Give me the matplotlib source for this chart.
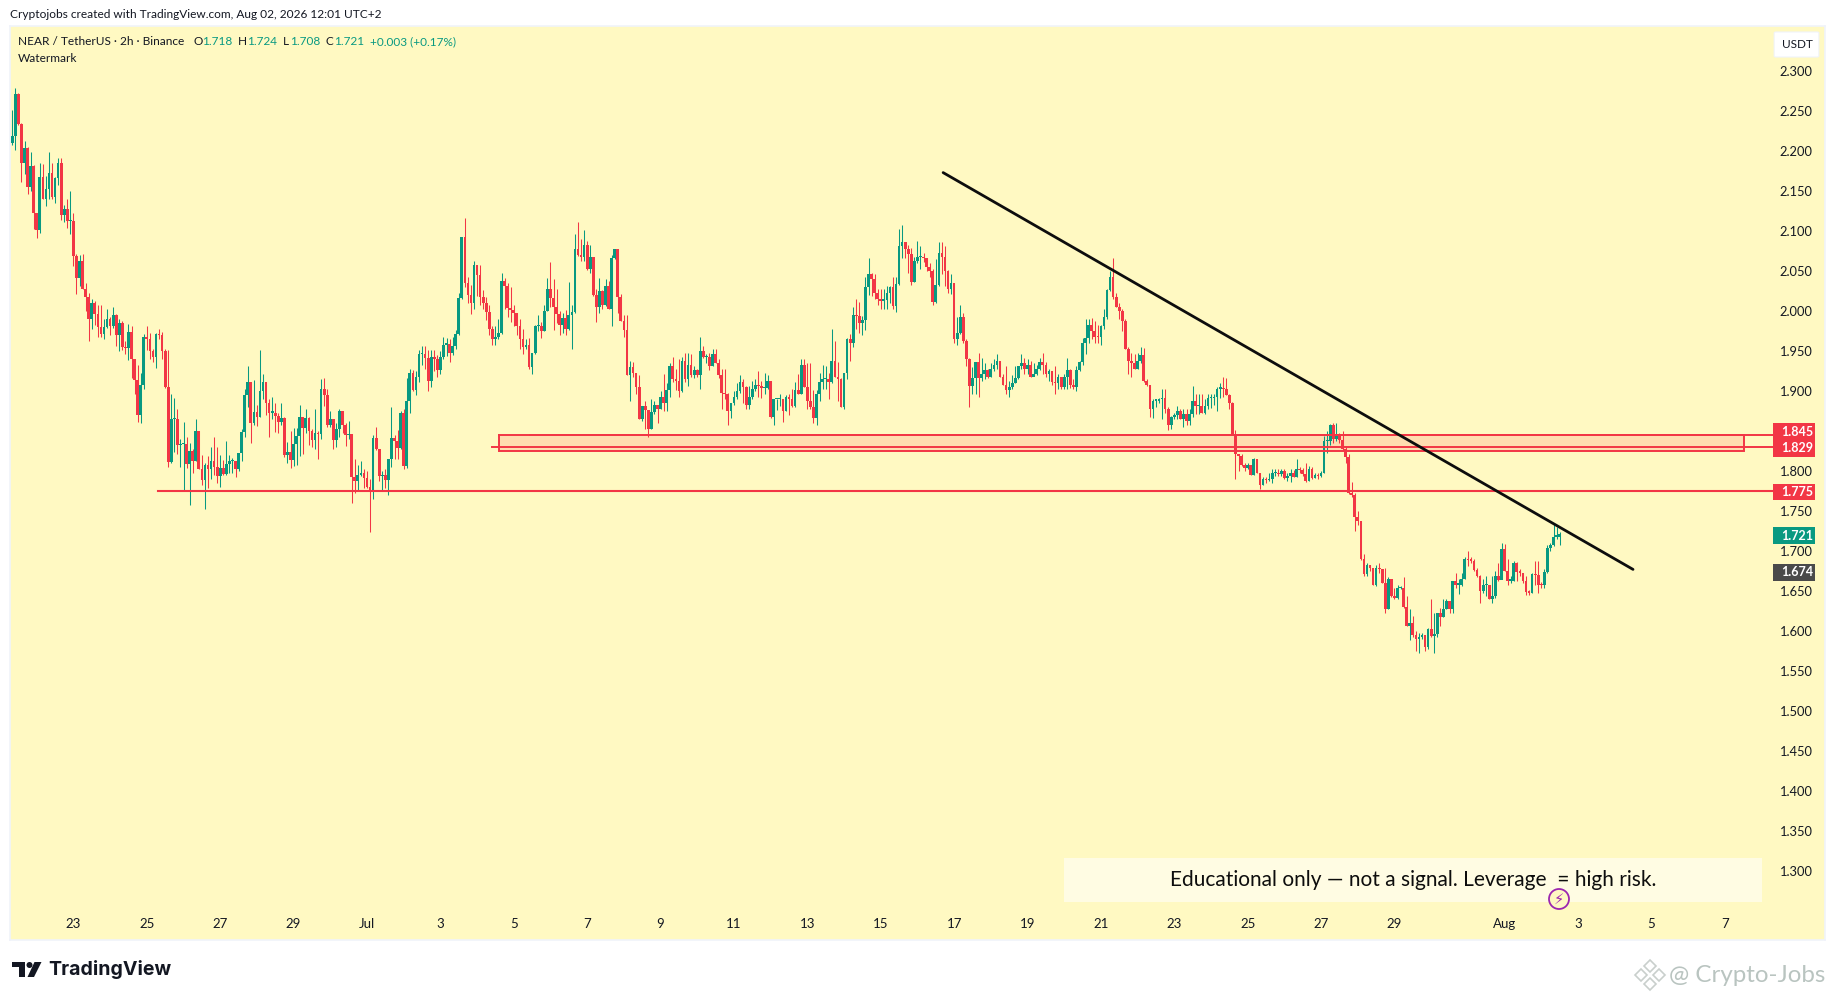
"""
NEAR / USDT 2h candles with levels and trend line
"""

import numpy as np
import matplotlib
matplotlib.use("Agg")
import matplotlib.pyplot as plt
from matplotlib.patches import Rectangle, FancyBboxPatch, Polygon, Circle

WIDTH, HEIGHT = 1835, 1000

first_open = 2.210
closes = [
    2.219, 2.271, 2.234, 2.185, 2.204, 2.155, 2.181, 2.122, 2.101, 2.168,
    2.140, 2.153, 2.172, 2.142, 2.166, 2.185, 2.120, 2.127, 2.112, 2.112,
    2.069, 2.041, 2.063, 2.028, 2.018, 1.990, 2.010, 1.996, 1.980, 1.971,
    1.980, 1.990, 1.981, 1.995, 1.970, 1.985, 1.955, 1.954, 1.974, 1.940,
    1.914, 1.870, 1.907, 1.968, 1.965, 1.950, 1.942, 1.971, 1.970, 1.950,
    1.905, 1.811, 1.865, 1.865, 1.832, 1.834, 1.834, 1.809, 1.825, 1.813,
    1.850, 1.803, 1.789, 1.807, 1.803, 1.812, 1.805, 1.794, 1.804, 1.796,
    1.809, 1.812, 1.813, 1.802, 1.822, 1.849, 1.895, 1.911, 1.860, 1.874,
    1.867, 1.900, 1.911, 1.885, 1.873, 1.873, 1.869, 1.861, 1.866, 1.820,
    1.824, 1.814, 1.834, 1.844, 1.867, 1.854, 1.866, 1.850, 1.839, 1.848,
    1.846, 1.903, 1.895, 1.858, 1.865, 1.839, 1.852, 1.875, 1.857, 1.845,
    1.846, 1.793, 1.788, 1.795, 1.798, 1.791, 1.780, 1.774, 1.841, 1.827,
    1.794, 1.795, 1.789, 1.815, 1.841, 1.837, 1.829, 1.872, 1.806, 1.887,
    1.923, 1.901, 1.917, 1.946, 1.946, 1.941, 1.913, 1.942, 1.940, 1.926,
    1.943, 1.958, 1.959, 1.948, 1.956, 1.971, 2.016, 2.092, 2.035, 2.020,
    2.010, 2.057, 2.045, 2.018, 2.010, 1.999, 1.978, 1.965, 1.968, 1.973,
    2.037, 2.031, 2.004, 2.001, 1.998, 1.981, 1.965, 1.955, 1.958, 1.930,
    1.947, 1.981, 1.981, 1.975, 2.000, 2.027, 2.016, 2.005, 1.996, 1.982,
    1.991, 1.977, 1.995, 1.999, 2.077, 2.070, 2.068, 2.083, 2.052, 2.067,
    2.020, 2.005, 2.025, 2.007, 2.031, 2.003, 2.066, 2.078, 2.018, 1.987,
    1.976, 1.920, 1.930, 1.922, 1.905, 1.865, 1.881, 1.876, 1.853, 1.874,
    1.882, 1.877, 1.892, 1.885, 1.901, 1.931, 1.915, 1.913, 1.900, 1.937,
    1.915, 1.932, 1.920, 1.926, 1.920, 1.950, 1.942, 1.942, 1.931, 1.946,
    1.935, 1.920, 1.898, 1.896, 1.875, 1.885, 1.893, 1.900, 1.911, 1.905,
    1.882, 1.892, 1.902, 1.908, 1.906, 1.904, 1.904, 1.912, 1.868, 1.890,
    1.890, 1.890, 1.875, 1.892, 1.890, 1.881, 1.901, 1.896, 1.933, 1.905,
    1.888, 1.880, 1.866, 1.896, 1.911, 1.915, 1.915, 1.911, 1.938, 1.918,
    1.915, 1.880, 1.922, 1.965, 1.960, 1.995, 1.994, 1.985, 1.989, 2.030,
    2.046, 2.040, 2.022, 2.015, 2.013, 2.014, 2.022, 2.030, 2.006, 2.034,
    2.081, 2.086, 2.077, 2.071, 2.036, 2.062, 2.067, 2.067, 2.066, 2.055,
    2.050, 2.011, 2.032, 2.073, 2.067, 2.050, 2.027, 2.035, 1.965, 1.972,
    1.992, 1.963, 1.940, 1.906, 1.916, 1.936, 1.916, 1.921, 1.926, 1.918,
    1.927, 1.933, 1.937, 1.918, 1.908, 1.901, 1.905, 1.910, 1.916, 1.931,
    1.935, 1.927, 1.932, 1.918, 1.921, 1.927, 1.936, 1.932, 1.921, 1.925,
    1.911, 1.910, 1.918, 1.905, 1.918, 1.926, 1.907, 1.905, 1.926, 1.936,
    1.960, 1.966, 1.982, 1.975, 1.968, 1.967, 1.981, 1.992, 2.026, 2.042,
    2.017, 2.005, 2.000, 1.987, 1.953, 1.937, 1.935, 1.928, 1.938, 1.945,
    1.912, 1.907, 1.878, 1.888, 1.888, 1.890, 1.891, 1.878, 1.858, 1.867,
    1.870, 1.875, 1.865, 1.871, 1.863, 1.871, 1.888, 1.881, 1.881, 1.873,
    1.881, 1.891, 1.891, 1.893, 1.903, 1.903, 1.902, 1.895, 1.885, 1.846,
    1.821, 1.819, 1.807, 1.804, 1.807, 1.795, 1.815, 1.798, 1.783, 1.790,
    1.789, 1.790, 1.797, 1.798, 1.796, 1.800, 1.791, 1.794, 1.798, 1.793,
    1.803, 1.801, 1.796, 1.787, 1.803, 1.791, 1.795, 1.794, 1.797, 1.837,
    1.838, 1.858, 1.840, 1.846, 1.839, 1.827, 1.818, 1.773, 1.770, 1.743,
    1.737, 1.690, 1.671, 1.682, 1.679, 1.658, 1.679, 1.677, 1.660, 1.628,
    1.665, 1.644, 1.641, 1.654, 1.654, 1.630, 1.606, 1.610, 1.595, 1.590,
    1.593, 1.595, 1.580, 1.603, 1.594, 1.596, 1.622, 1.618, 1.628, 1.637,
    1.627, 1.662, 1.658, 1.658, 1.665, 1.690, 1.689, 1.688, 1.676, 1.669,
    1.650, 1.657, 1.657, 1.640, 1.644, 1.669, 1.664, 1.703, 1.675, 1.663,
    1.663, 1.685, 1.674, 1.673, 1.662, 1.649, 1.648, 1.671, 1.670, 1.658,
    1.657, 1.674, 1.704, 1.708, 1.718, 1.718, 1.721,
]
highs = [
    2.251, 2.279, 2.273, 2.235, 2.212, 2.205, 2.199, 2.182, 2.122, 2.185,
    2.184, 2.169, 2.199, 2.185, 2.167, 2.191, 2.191, 2.132, 2.140, 2.150,
    2.123, 2.071, 2.070, 2.071, 2.035, 2.023, 2.015, 2.013, 2.007, 2.007,
    1.990, 2.002, 1.992, 2.005, 1.996, 1.990, 1.987, 1.963, 1.984, 1.981,
    1.940, 1.932, 1.922, 1.971, 1.981, 1.972, 1.952, 1.972, 1.978, 1.974,
    1.952, 1.951, 1.896, 1.891, 1.877, 1.840, 1.861, 1.842, 1.835, 1.827,
    1.865, 1.850, 1.820, 1.810, 1.819, 1.830, 1.842, 1.830, 1.820, 1.814,
    1.837, 1.820, 1.816, 1.813, 1.823, 1.852, 1.903, 1.931, 1.911, 1.914,
    1.882, 1.951, 1.921, 1.911, 1.890, 1.892, 1.885, 1.873, 1.885, 1.867,
    1.836, 1.850, 1.854, 1.854, 1.882, 1.867, 1.877, 1.868, 1.852, 1.877,
    1.850, 1.915, 1.916, 1.902, 1.875, 1.865, 1.860, 1.877, 1.875, 1.860,
    1.862, 1.846, 1.815, 1.808, 1.812, 1.802, 1.800, 1.790, 1.845, 1.855,
    1.828, 1.800, 1.803, 1.815, 1.880, 1.845, 1.851, 1.875, 1.878, 1.916,
    1.927, 1.926, 1.925, 1.951, 1.956, 1.956, 1.951, 1.951, 1.951, 1.945,
    1.950, 1.968, 1.966, 1.965, 1.968, 1.976, 2.022, 2.093, 2.116, 2.042,
    2.032, 2.062, 2.057, 2.057, 2.026, 2.017, 2.008, 1.981, 1.981, 1.990,
    2.047, 2.041, 2.035, 2.030, 2.007, 1.998, 1.990, 1.978, 1.965, 1.966,
    1.947, 1.983, 1.995, 1.986, 2.007, 2.041, 2.061, 2.040, 2.027, 2.000,
    1.998, 2.001, 2.036, 2.007, 2.096, 2.111, 2.090, 2.101, 2.087, 2.082,
    2.067, 2.027, 2.041, 2.026, 2.040, 2.038, 2.070, 2.078, 2.078, 2.021,
    1.995, 1.995, 1.937, 1.936, 1.923, 1.920, 1.881, 1.888, 1.876, 1.890,
    1.888, 1.883, 1.900, 1.921, 1.910, 1.935, 1.942, 1.927, 1.940, 1.942,
    1.947, 1.947, 1.946, 1.931, 1.927, 1.967, 1.956, 1.946, 1.947, 1.952,
    1.952, 1.940, 1.927, 1.927, 1.898, 1.885, 1.900, 1.910, 1.920, 1.915,
    1.906, 1.906, 1.912, 1.915, 1.925, 1.912, 1.923, 1.920, 1.912, 1.890,
    1.890, 1.896, 1.890, 1.895, 1.896, 1.903, 1.911, 1.921, 1.940, 1.940,
    1.935, 1.935, 1.901, 1.901, 1.922, 1.932, 1.931, 1.922, 1.977, 1.963,
    1.936, 1.916, 1.922, 1.966, 1.971, 2.005, 2.015, 2.011, 1.994, 2.042,
    2.066, 2.047, 2.046, 2.028, 2.027, 2.027, 2.031, 2.031, 2.042, 2.042,
    2.102, 2.108, 2.086, 2.083, 2.079, 2.068, 2.087, 2.081, 2.072, 2.066,
    2.060, 2.052, 2.065, 2.086, 2.086, 2.081, 2.051, 2.046, 2.035, 1.993,
    2.008, 1.998, 1.965, 1.941, 1.930, 1.936, 1.948, 1.941, 1.935, 1.927,
    1.935, 1.940, 1.946, 1.937, 1.921, 1.931, 1.912, 1.920, 1.931, 1.931,
    1.946, 1.941, 1.940, 1.937, 1.935, 1.933, 1.941, 1.948, 1.936, 1.927,
    1.925, 1.931, 1.921, 1.918, 1.921, 1.941, 1.928, 1.915, 1.931, 1.937,
    1.966, 1.990, 1.990, 1.991, 1.987, 1.982, 1.983, 2.002, 2.028, 2.050,
    2.066, 2.022, 2.010, 2.002, 1.990, 1.955, 1.947, 1.946, 1.948, 1.955,
    1.954, 1.915, 1.908, 1.890, 1.890, 1.891, 1.902, 1.902, 1.880, 1.869,
    1.873, 1.881, 1.877, 1.877, 1.877, 1.877, 1.906, 1.896, 1.896, 1.896,
    1.890, 1.896, 1.896, 1.896, 1.905, 1.910, 1.917, 1.916, 1.896, 1.886,
    1.851, 1.821, 1.821, 1.810, 1.810, 1.807, 1.816, 1.815, 1.798, 1.792,
    1.793, 1.798, 1.802, 1.802, 1.802, 1.802, 1.802, 1.797, 1.802, 1.801,
    1.815, 1.805, 1.804, 1.810, 1.806, 1.805, 1.798, 1.798, 1.800, 1.844,
    1.850, 1.859, 1.860, 1.860, 1.848, 1.850, 1.831, 1.821, 1.786, 1.772,
    1.750, 1.737, 1.696, 1.685, 1.683, 1.679, 1.683, 1.685, 1.677, 1.679,
    1.667, 1.665, 1.654, 1.658, 1.656, 1.668, 1.644, 1.627, 1.619, 1.600,
    1.598, 1.598, 1.595, 1.604, 1.640, 1.623, 1.623, 1.629, 1.640, 1.640,
    1.637, 1.662, 1.672, 1.665, 1.673, 1.692, 1.700, 1.693, 1.690, 1.679,
    1.670, 1.665, 1.669, 1.657, 1.669, 1.675, 1.685, 1.710, 1.709, 1.690,
    1.669, 1.688, 1.686, 1.677, 1.673, 1.669, 1.651, 1.673, 1.687, 1.687,
    1.661, 1.677, 1.707, 1.710, 1.735, 1.730, 1.724,
]
lows = [
    2.208, 2.201, 2.232, 2.161, 2.171, 2.146, 2.150, 2.102, 2.091, 2.097,
    2.140, 2.131, 2.140, 2.140, 2.135, 2.158, 2.114, 2.111, 2.104, 2.096,
    2.056, 2.021, 2.031, 2.028, 2.000, 1.962, 1.977, 1.982, 1.967, 1.967,
    1.965, 1.979, 1.970, 1.979, 1.956, 1.950, 1.951, 1.946, 1.939, 1.916,
    1.896, 1.861, 1.860, 1.902, 1.951, 1.940, 1.936, 1.929, 1.965, 1.940,
    1.904, 1.805, 1.810, 1.824, 1.821, 1.805, 1.776, 1.804, 1.758, 1.798,
    1.812, 1.802, 1.782, 1.752, 1.779, 1.790, 1.795, 1.785, 1.780, 1.795,
    1.795, 1.798, 1.798, 1.793, 1.800, 1.812, 1.842, 1.880, 1.835, 1.858,
    1.856, 1.868, 1.890, 1.870, 1.842, 1.865, 1.849, 1.847, 1.857, 1.817,
    1.810, 1.804, 1.806, 1.807, 1.819, 1.821, 1.848, 1.833, 1.830, 1.828,
    1.815, 1.840, 1.881, 1.855, 1.855, 1.828, 1.830, 1.843, 1.847, 1.831,
    1.840, 1.760, 1.773, 1.775, 1.794, 1.779, 1.779, 1.724, 1.765, 1.826,
    1.788, 1.775, 1.779, 1.770, 1.805, 1.815, 1.815, 1.828, 1.803, 1.804,
    1.873, 1.900, 1.895, 1.911, 1.932, 1.928, 1.900, 1.905, 1.925, 1.917,
    1.921, 1.940, 1.944, 1.936, 1.945, 1.952, 1.970, 2.015, 2.030, 2.010,
    1.996, 2.002, 2.019, 2.008, 2.003, 1.989, 1.970, 1.958, 1.958, 1.965,
    1.971, 2.003, 1.992, 1.986, 1.981, 1.970, 1.953, 1.946, 1.952, 1.927,
    1.921, 1.946, 1.975, 1.966, 1.975, 2.000, 2.005, 1.976, 1.985, 1.970,
    1.972, 1.970, 1.976, 1.952, 1.998, 2.069, 2.062, 2.062, 2.051, 2.047,
    2.019, 1.986, 1.997, 2.003, 2.006, 2.002, 1.981, 2.065, 1.997, 1.987,
    1.968, 1.920, 1.888, 1.917, 1.896, 1.865, 1.862, 1.852, 1.843, 1.853,
    1.871, 1.860, 1.877, 1.875, 1.875, 1.892, 1.911, 1.901, 1.892, 1.899,
    1.911, 1.906, 1.917, 1.916, 1.917, 1.903, 1.941, 1.935, 1.926, 1.931,
    1.935, 1.916, 1.878, 1.890, 1.858, 1.866, 1.883, 1.890, 1.898, 1.885,
    1.878, 1.877, 1.890, 1.900, 1.892, 1.891, 1.896, 1.902, 1.866, 1.857,
    1.876, 1.881, 1.861, 1.875, 1.870, 1.880, 1.880, 1.896, 1.896, 1.905,
    1.877, 1.878, 1.860, 1.857, 1.887, 1.902, 1.902, 1.890, 1.910, 1.918,
    1.888, 1.880, 1.877, 1.915, 1.937, 1.955, 1.977, 1.973, 1.970, 1.976,
    2.020, 2.019, 2.015, 2.008, 2.002, 2.002, 2.002, 2.010, 2.002, 1.999,
    2.033, 2.066, 2.066, 2.048, 2.033, 2.036, 2.060, 2.052, 2.061, 2.050,
    2.042, 2.008, 2.010, 2.031, 2.046, 2.031, 2.022, 2.021, 1.960, 1.958,
    1.971, 1.960, 1.931, 1.880, 1.896, 1.896, 1.893, 1.913, 1.915, 1.916,
    1.917, 1.925, 1.927, 1.918, 1.907, 1.896, 1.893, 1.902, 1.910, 1.915,
    1.927, 1.921, 1.921, 1.917, 1.919, 1.920, 1.926, 1.921, 1.917, 1.912,
    1.908, 1.896, 1.902, 1.903, 1.903, 1.902, 1.904, 1.903, 1.900, 1.925,
    1.933, 1.946, 1.960, 1.965, 1.960, 1.960, 1.957, 1.977, 1.990, 2.025,
    2.015, 2.005, 1.990, 1.975, 1.953, 1.921, 1.917, 1.928, 1.927, 1.935,
    1.911, 1.906, 1.867, 1.866, 1.880, 1.885, 1.865, 1.873, 1.851, 1.853,
    1.865, 1.865, 1.865, 1.855, 1.857, 1.858, 1.867, 1.871, 1.871, 1.873,
    1.871, 1.877, 1.879, 1.883, 1.875, 1.891, 1.893, 1.895, 1.877, 1.846,
    1.790, 1.800, 1.806, 1.800, 1.802, 1.795, 1.795, 1.798, 1.777, 1.782,
    1.785, 1.787, 1.785, 1.794, 1.794, 1.794, 1.790, 1.787, 1.786, 1.792,
    1.793, 1.797, 1.794, 1.786, 1.788, 1.790, 1.791, 1.790, 1.792, 1.797,
    1.823, 1.833, 1.835, 1.838, 1.835, 1.825, 1.810, 1.771, 1.767, 1.725,
    1.732, 1.689, 1.669, 1.669, 1.675, 1.657, 1.656, 1.673, 1.660, 1.623,
    1.628, 1.642, 1.640, 1.640, 1.652, 1.629, 1.606, 1.589, 1.593, 1.575,
    1.573, 1.590, 1.575, 1.578, 1.593, 1.573, 1.593, 1.606, 1.617, 1.627,
    1.623, 1.623, 1.654, 1.646, 1.656, 1.665, 1.681, 1.685, 1.675, 1.667,
    1.635, 1.648, 1.644, 1.640, 1.635, 1.641, 1.663, 1.665, 1.675, 1.658,
    1.660, 1.663, 1.663, 1.669, 1.660, 1.645, 1.645, 1.647, 1.658, 1.648,
    1.654, 1.654, 1.673, 1.700, 1.706, 1.715, 1.708,
]

# bars counted from 1 Jul 00:00, 12 bars a day
first_bar = -116
date_ticks = [-96, -72, -48, -24, 0, 24, 48, 72, 96, 120, 144, 168, 192,
              216, 240, 264, 288, 312, 336, 372, 396, 420, 444]
date_labels = ["23", "25", "27", "29", "Jul", "3", "5", "7", "9", "11", "13",
               "15", "17", "19", "21", "23", "25", "27", "29", "Aug", "3",
               "5", "7"]
price_ticks = [2.30, 2.25, 2.20, 2.15, 2.10, 2.05, 2.00, 1.95, 1.90, 1.85,
               1.80, 1.75, 1.70, 1.65, 1.60, 1.55, 1.50, 1.45, 1.40, 1.35,
               1.30]

zone_top, zone_low_line, zone_bottom = 1.845, 1.8295, 1.8245
support = 1.775
trend_bars = [188.4, 414.0]
trend_prices = [2.173, 1.677]

GREEN = "#089981"
RED = "#F23645"
BG = "#FFF9C2"
FONT = "Lato"

plt.rcParams["font.family"] = [FONT, "DejaVu Sans"]

fig = plt.figure(figsize=(WIDTH / 100, HEIGHT / 100), dpi=100, facecolor="white")
ax = fig.add_axes([10 / WIDTH, 60 / HEIGHT, 1815 / WIDTH, 914 / HEIGHT], facecolor=BG)


def bar_x(px):
    return (px - 367) / 3.058


def fig_xy(x, y):
    return x / WIDTH, 1 - y / HEIGHT


def px_text(x, y, s, **kwargs):
    fx, fy = fig_xy(x, y)
    kwargs.setdefault("va", "center")
    kwargs.setdefault("color", "#131722")
    return fig.text(fx, fy, s, **kwargs)


def px_rect(x0, y0, x1, y1, color, **kwargs):
    fx, fy = fig_xy(x0, y1)
    fig.add_artist(Rectangle((fx, fy), (x1 - x0) / WIDTH, (y1 - y0) / HEIGHT,
                             transform=fig.transFigure, facecolor=color,
                             edgecolor="none", **kwargs))


ax.set_xlim(bar_x(10), bar_x(1825))
ax.set_ylim(2.3 - (940 - 71.0) / 800, 2.3 + (71.0 - 26) / 800)

xs = first_bar + np.arange(len(closes))
close_arr = np.array(closes)
open_arr = np.r_[first_open, close_arr[:-1]]
up = close_arr >= open_arr
colors = np.where(up, GREEN, RED)

body_low = np.minimum(open_arr, close_arr)
body_height = np.maximum(np.abs(close_arr - open_arr), 0.0015)

# zone under the candles
ax.fill_between([bar_x(499), bar_x(1744)], zone_bottom, zone_top,
                color="#FFDDB0", lw=0, zorder=1)

ax.vlines(xs, lows, highs, colors=colors, lw=0.75, zorder=2, snap=True)
ax.bar(xs, body_height, bottom=body_low, width=0.88, color=colors, lw=0, zorder=3)

ax.plot([bar_x(499), bar_x(1744), bar_x(1744), bar_x(499), bar_x(499)],
        [zone_top, zone_top, zone_bottom, zone_bottom, zone_top],
        color=RED, lw=1.4, zorder=4, solid_joinstyle="miter")
ax.plot([bar_x(530), bar_x(1773)], [zone_top, zone_top], color=RED, lw=1.4, zorder=4)
ax.plot([bar_x(492), bar_x(1773)], [zone_low_line, zone_low_line], color=RED, lw=1.4, zorder=4)
ax.plot([bar_x(158), bar_x(1773)], [support, support], color=RED, lw=1.5, zorder=4)
ax.plot(trend_bars, trend_prices, color="#0d0d0d", lw=2, zorder=5,
        solid_capstyle="round")

# axis labels sit inside the pane
ax.yaxis.tick_right()
ax.set_yticks(price_ticks)
ax.set_yticklabels([f"{p:.3f}" for p in price_ticks])
ax.tick_params(axis="y", length=0, pad=-32.5, labelsize=9.3, labelcolor="#131722")
ax.set_xticks(date_ticks)
ax.set_xticklabels(date_labels)
ax.tick_params(axis="x", length=0, pad=-15.5, labelsize=9.5, labelcolor="#131722")
for spine in ax.spines.values():
    spine.set_color("#F0F3FA")
    spine.set_linewidth(1.2)

# price tags
tags = [
    ("1.845", 423, 440, RED), ("1.829", 440, 457, RED), ("1.775", 484, 500, RED),
    ("1.721", 527, 544, GREEN), ("1.674", 564, 581, "#4A4A4A"),
]
for label, y0, y1, col in tags:
    px_rect(1773, y0, 1815, y1, col, zorder=6)
    px_text(1781, (y0 + y1) / 2, label, color="white", fontsize=9,
            fontweight="bold", zorder=7)

# currency button
fig.add_artist(FancyBboxPatch((1776 / WIDTH, 1 - 56 / HEIGHT), 41 / WIDTH, 23 / HEIGHT,
                              boxstyle="round,pad=0.001", transform=fig.transFigure,
                              facecolor="white", edgecolor="#F0F3FA", lw=0.8))
px_text(1797, 44.5, "USDT", ha="center", fontsize=8.5)

# header and legend
px_text(10, 15, "Cryptojobs created with TradingView.com, Aug 02, 2026 12:01 UTC+2", fontsize=8.6)
px_text(18, 41.5, "NEAR / TetherUS · 2h · Binance", fontsize=8.6)
legend_parts = [(193, "O", None), (202, "1.718", GREEN), (238, "H", None), (247, "1.724", GREEN),
                (283, "L", None), (290, "1.708", GREEN), (326, "C", None), (334, "1.721", GREEN),
                (370, "+0.003 (+0.17%)", GREEN)]
for x, s, col in legend_parts:
    px_text(x, 41.5, s, fontsize=8.5, color=col or "#131722")
px_text(18, 59, "Watermark", fontsize=8.6)

# disclaimer
px_rect(1064, 858, 1762, 902, "#FFFCE3", zorder=6)
px_text(1413, 880, "Educational only — not a signal. Leverage  = high risk.",
        ha="center", fontsize=15, color="#0d0d0d", zorder=7)

# lightning badge
badge = Circle((1559, HEIGHT - 899), 10, transform=None, facecolor=BG,
               edgecolor="#9C27B0", lw=1.3, zorder=8)
fig.add_artist(badge)
px_text(1559, 899, "\u26a1", ha="center", fontsize=10.5, color="#9C27B0",
        family="DejaVu Sans", zorder=9)

# TradingView logo
for pts in ([(12, 962), (25, 962), (25, 977), (18.5, 977), (18.5, 967), (12, 967)],
            [(41.5, 962), (34, 977), (27.5, 977), (34.5, 962)]):
    fig.add_artist(Polygon([fig_xy(x, y) for x, y in pts], closed=True,
                           transform=fig.transFigure, facecolor="#131722", edgecolor="none"))
fig.add_artist(Circle((29.5, HEIGHT - 965), 3, transform=None, facecolor="#131722", edgecolor="none"))
px_text(48, 969.5, "TradingView", fontsize=14.1, fontweight="bold", family="Inter")

# site watermark
for dx, dy in ((0, -9), (-9, 0), (9, 0), (0, 9)):
    pts = [(1650 + dx, 975 + dy - 6), (1650 + dx + 6, 975 + dy),
           (1650 + dx, 975 + dy + 6), (1650 + dx - 6, 975 + dy)]
    fig.add_artist(Polygon([fig_xy(x, y) for x, y in pts], closed=True,
                           transform=fig.transFigure, facecolor="none",
                           edgecolor="#C9CFCC", lw=1.2))
px_text(1669, 975, "@ Crypto-Jobs", fontsize=17.4, color="#B9C4C0")

fig.savefig("out.png", dpi=100)
